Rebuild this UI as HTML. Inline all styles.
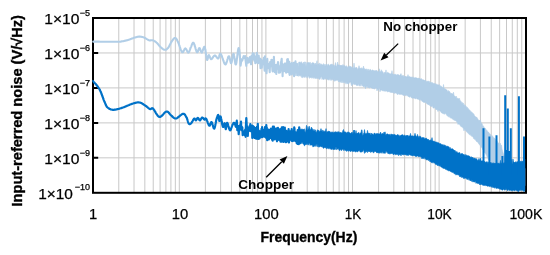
<!DOCTYPE html>
<html><head><meta charset="utf-8"><title>Input-referred noise</title>
<style>html,body{margin:0;padding:0;background:#fff}svg{display:block}</style></head>
<body>
<svg width="550" height="255" viewBox="0 0 550 255">
<rect width="550" height="255" fill="#fff"/>
<path d="M118.77 18.0V192.8M134.02 18.0V192.8M144.84 18.0V192.8M153.23 18.0V192.8M160.09 18.0V192.8M165.89 18.0V192.8M170.91 18.0V192.8M175.34 18.0V192.8M179.30 18.0V192.8M205.37 18.0V192.8M220.62 18.0V192.8M231.44 18.0V192.8M239.83 18.0V192.8M246.69 18.0V192.8M252.49 18.0V192.8M257.51 18.0V192.8M261.94 18.0V192.8M265.90 18.0V192.8M291.97 18.0V192.8M307.22 18.0V192.8M318.04 18.0V192.8M326.43 18.0V192.8M333.29 18.0V192.8M339.09 18.0V192.8M344.11 18.0V192.8M348.54 18.0V192.8M352.50 18.0V192.8M378.57 18.0V192.8M393.82 18.0V192.8M404.64 18.0V192.8M413.03 18.0V192.8M419.89 18.0V192.8M425.69 18.0V192.8M430.71 18.0V192.8M435.14 18.0V192.8M439.10 18.0V192.8M465.17 18.0V192.8M480.42 18.0V192.8M491.24 18.0V192.8M499.63 18.0V192.8M506.49 18.0V192.8M512.29 18.0V192.8M517.31 18.0V192.8M521.74 18.0V192.8M93.0 52.96H526.0M93.0 87.92H526.0M93.0 122.88H526.0M93.0 157.84H526.0" stroke="#c8c8c8" stroke-width="1" fill="none"/>
<rect x="93.0" y="18.0" width="433.0" height="174.8" fill="none" stroke="#000" stroke-width="2"/>
<path d="M93.0 52.96h5.2M93.0 87.92h5.2M93.0 122.88h5.2M93.0 157.84h5.2" stroke="#000" stroke-width="2" fill="none"/>
<clipPath id="c"><rect x="92.3" y="18.0" width="432.9" height="174.8"/></clipPath>
<g clip-path="url(#c)" stroke-linejoin="round" stroke-linecap="round">
<polyline points="93.0,41.6 93.3,41.6 93.7,41.6 94.2,41.6 94.7,41.6 95.2,41.6 95.8,41.6 96.4,41.6 97.0,41.6 97.7,41.6 98.4,41.6 99.1,41.6 99.8,41.7 100.5,41.7 101.2,41.7 101.9,41.7 102.5,41.7 103.2,41.7 103.8,41.7 104.4,41.7 105.0,41.7 105.7,41.7 106.4,41.7 107.1,41.7 107.7,41.7 108.4,41.7 109.1,41.8 109.8,41.8 110.4,41.8 111.0,41.8 111.7,41.8 112.3,41.8 112.9,41.8 113.4,41.8 114.0,41.8 114.5,41.8 115.0,41.8 115.8,41.8 116.5,41.8 117.1,41.8 117.7,41.8 118.2,41.8 118.8,41.8 119.3,41.7 119.9,41.7 120.6,41.6 121.2,41.5 121.7,41.4 122.4,41.3 123.0,41.2 123.6,41.1 124.3,40.9 124.9,40.8 125.6,40.6 126.2,40.5 126.8,40.3 127.4,40.2 128.0,40.0 128.7,39.8 129.3,39.6 129.9,39.4 130.5,39.1 131.1,38.9 131.7,38.6 132.3,38.4 132.9,38.2 133.4,38.0 134.0,37.8 134.6,37.6 135.3,37.4 135.9,37.2 136.5,37.1 137.1,36.9 137.7,36.8 138.3,36.7 138.8,36.6 139.4,36.6 140.1,36.6 140.8,36.7 141.4,36.7 142.0,36.9 142.7,37.1 143.3,37.3 144.0,37.5 144.5,37.7 145.1,38.0 145.7,38.4 146.2,38.7 146.8,39.1 147.4,39.4 147.9,39.7 148.5,40.0 149.0,40.2 149.7,40.4 150.4,40.4 151.1,40.3 151.7,40.2 152.3,40.3 153.0,40.4 153.6,40.6 154.1,40.9 154.7,41.2 155.3,41.6 155.9,42.0 156.4,42.5 157.0,43.0 157.4,43.4 157.8,43.8 158.2,44.3 158.6,44.8 159.0,45.3 159.4,45.8 159.8,46.3 160.2,46.7 160.6,47.1 161.0,47.5 161.6,48.0 162.1,48.4 162.7,48.9 163.2,49.2 163.8,49.5 164.3,49.7 164.8,49.8 165.4,49.8 165.9,49.7 166.4,49.5 166.9,49.1 167.4,48.6 168.0,48.0 168.3,47.6 168.6,47.2 168.9,46.7 169.2,46.1 169.5,45.5 169.8,44.9 170.2,44.3 170.5,43.6 170.8,43.0 171.1,42.4 171.4,41.9 171.7,41.4 172.0,41.0 172.5,40.3 173.0,39.6 173.4,39.1 173.9,38.6 174.3,38.2 174.8,38.0 175.2,38.0 175.6,38.1 175.9,38.4 176.2,38.7 176.5,39.2 176.9,39.7 177.2,40.4 177.6,41.2 178.0,42.0 178.2,42.4 178.4,42.9 178.6,43.5 178.9,44.1 179.1,44.8 179.3,45.5 179.6,46.2 179.8,46.9 180.1,47.6 180.3,48.3 180.6,49.0 180.8,49.6 181.1,50.2 181.3,50.8 181.5,51.2 181.8,51.6 182.0,52.0 182.2,52.2 182.6,52.3 183.1,52.0 183.4,51.4 183.8,50.7 184.2,49.9 184.6,49.1 184.9,48.6 185.3,48.4 185.7,48.6 186.1,49.1 186.5,49.8 186.9,50.6 187.3,51.4 187.7,52.1 188.0,52.5 188.4,52.6 188.7,52.4 189.0,52.1 189.2,51.6 189.5,51.0 189.7,50.3 190.0,49.6 190.2,48.9 190.5,48.2 190.7,47.5 191.0,47.0 191.3,46.3 191.6,45.5 191.9,44.7 192.2,44.0 192.5,43.3 192.8,42.9 193.1,42.7 193.5,42.8 193.7,43.0 193.9,43.4 194.1,43.9 194.3,44.5 194.6,45.2 194.8,45.9 195.0,46.7 195.3,47.5 195.5,48.3 195.7,49.1 196.0,49.8 196.2,50.5 196.4,51.1 196.6,51.6 196.8,52.0 197.0,52.2 197.4,52.3 197.7,51.9 198.0,51.2 198.3,50.4 198.5,49.5 198.8,48.8 199.1,48.2 199.4,48.0 199.7,48.2 200.0,48.8 200.3,49.5 200.6,50.4 200.9,51.2 201.2,52.0 201.5,52.5 201.8,52.6 202.1,52.4 202.3,51.8 202.6,51.0 202.9,50.1 203.2,49.2 203.5,48.3 203.8,47.5 204.1,46.9 204.3,46.7 204.6,46.8 204.7,47.0 204.8,47.4 205.0,47.8 205.1,48.3 205.2,49.0 205.3,49.6 205.5,50.4 205.6,51.1 205.7,51.9 205.8,52.8 205.9,53.6 206.0,54.4 206.1,55.2 206.3,56.0 206.4,56.8 206.5,57.4 206.6,58.1 206.7,58.6 206.8,59.1 206.9,59.4 207.0,59.7 207.2,59.9 207.5,59.6 207.7,58.8 207.9,57.9 208.1,56.9 208.3,56.0 208.6,55.3 208.8,55.0 209.1,55.2 209.3,55.6 209.6,56.3 209.9,57.0 210.2,57.8 210.5,58.5 210.8,59.0 211.2,59.2 211.6,59.1 212.0,58.7 212.4,58.1 212.9,57.4 213.3,56.7 213.8,56.1 214.3,55.7 214.7,55.5 215.2,55.6 215.7,56.1 216.3,56.7 216.8,57.4 217.3,58.0 217.8,58.4 218.2,58.5 218.5,58.2 218.8,57.5 219.1,56.6 219.3,55.7 219.6,54.8 219.9,54.1 220.2,53.7 220.6,53.8 220.8,54.0 221.0,54.4 221.2,54.8 221.5,55.4 221.7,56.0 222.0,56.7 222.2,57.4 222.5,58.1 222.7,58.9 223.0,59.7 223.3,60.5 223.6,61.2 223.8,61.9 224.1,62.6 224.3,63.1 224.6,63.6 224.8,64.0 225.1,64.3 225.3,64.4 225.6,64.4 225.9,64.1 226.1,63.6 226.4,63.0 226.7,62.2 226.9,61.4 227.2,60.5 227.4,59.6 227.7,58.8 227.9,58.0 228.1,57.3 228.4,56.7 228.6,56.4 228.8,56.2 229.0,56.3 229.3,56.7 229.5,57.3 229.7,58.0 229.9,58.9 230.1,59.8 230.3,60.7 230.4,61.5 230.6,62.2 230.8,62.8 231.0,63.1 231.2,63.2 231.3,63.0 231.5,62.7 231.6,62.2 231.8,61.5 231.9,60.8 232.1,60.0 232.2,59.1 232.3,58.3 232.5,57.4 232.6,56.6 232.8,55.8 232.9,55.1 233.1,54.6 233.2,54.1 233.4,53.9 233.5,53.8 233.6,53.9 233.8,54.2 233.9,54.7 234.0,55.3 234.1,56.0 234.3,56.9 234.4,57.7 234.5,58.6 234.7,59.5 234.8,60.4 234.9,61.3 235.1,62.1 235.2,62.9 235.3,63.5 235.5,64.0 235.6,64.3 235.8,64.5 235.9,64.4 236.0,64.2 236.1,64.0 236.2,63.6 236.3,63.1 236.4,62.5 236.5,61.9 236.6,61.2 236.7,60.5 236.8,59.7 236.9,58.8 237.1,58.0 237.2,57.1 237.3,56.2 237.4,55.3 237.5,54.4 237.6,53.6 237.7,52.7 237.8,51.9 237.9,51.2 238.0,50.5 238.1,49.9 238.2,49.3 238.3,48.9 238.4,48.5 238.5,48.2 238.6,48.0 238.7,48.0 238.8,48.1 238.9,48.2 238.9,48.5 239.0,48.8 239.1,49.2 239.2,49.7 239.3,50.3 239.3,50.9 239.4,51.5 239.5,52.2 239.6,53.0 239.6,53.7 239.7,54.5 239.8,55.4 239.9,56.2 239.9,57.0 240.0,57.9 240.1,58.7 240.1,59.5 240.2,60.3 240.2,61.1 240.3,61.8 240.3,62.5 240.4,63.2 240.4,63.8 240.5,64.3 240.5,64.8 240.6,65.3 240.6,65.6 241.5,59.3 242.2,60.6 242.9,58.5 243.6,56.2 244.3,58.0 245.0,56.0 245.6,60.4 246.3,65.8 246.9,58.3 247.5,57.9 248.1,62.7 248.7,62.3 249.3,61.3 249.9,57.0 250.5,61.0 251.1,64.2 251.6,55.5 252.2,59.4 252.7,53.2 253.2,55.9 253.8,53.5 254.3,60.8 254.8,56.3 255.3,63.3 255.8,62.9 256.3,61.4 256.8,52.8 257.3,60.0 257.7,62.3 258.2,63.2 258.7,55.6 259.1,60.6 259.6,58.3 260.0,59.2 260.5,68.1 260.9,59.3 261.3,63.1 261.8,67.6 262.2,60.6 262.6,63.0 263.0,64.1 263.4,64.0 263.8,57.8 264.2,64.2 264.6,70.6 265.0,56.3 265.4,68.3 265.8,64.8 266.1,61.1 266.5,73.3 266.9,68.2 267.3,58.7 267.6,65.0 268.0,67.6 268.3,63.9 268.7,68.2 269.0,64.7 269.4,68.3 269.7,72.1 270.1,62.0 270.4,66.3 270.7,63.2 271.1,66.1 271.4,59.9 271.7,62.9 272.1,64.8 272.4,70.1 272.7,71.4 273.0,59.7 273.3,62.3 273.6,69.2 273.9,56.9 274.2,64.1 274.5,65.9 274.8,72.3 275.1,69.8 275.4,65.1 275.7,65.0 276.0,65.6 276.3,73.9 276.6,64.9 276.9,65.6 277.2,68.7 277.4,66.6 277.7,66.3 278.0,62.1 278.3,67.3 278.5,65.4 278.8,72.8 279.1,70.5 279.3,67.5 279.6,70.7 279.9,66.2 280.1,72.5 280.4,67.8 280.7,70.5 280.9,62.0 281.2,69.4 281.4,60.2 281.7,58.7 281.9,66.5 282.2,63.9 282.4,68.7 282.6,76.2 282.9,64.2 283.1,65.2 283.4,69.0 283.6,70.3 283.8,67.3 284.1,67.2 284.3,71.3 284.5,70.5 284.8,63.5 285.0,67.8 285.2,68.4 285.5,63.5 285.7,69.4 285.9,64.4 286.1,72.7 286.3,69.2 286.6,68.7 286.8,65.7 287.0,67.8 287.2,59.4 287.4,63.3 287.6,70.0 287.9,59.1 288.1,72.3 288.3,60.7 288.5,71.9 288.7,64.7 288.9,72.0 289.1,69.1 289.3,61.7 289.5,74.2 289.7,75.0 289.9,68.3 290.1,67.4 290.3,67.9 290.5,64.3 290.7,73.6 290.9,66.3 291.1,68.5 291.3,65.2 291.5,66.0 291.7,63.1 291.9,74.4 292.1,68.1 292.2,73.1 292.4,68.9 292.6,65.8 292.8,67.4 293.0,66.4 293.2,68.9 293.4,67.3 293.5,67.6 293.7,62.8 293.9,65.4 294.1,76.3 294.3,66.0 294.4,64.3 294.6,70.5 294.8,75.3 295.0,62.6 295.1,68.2 295.3,66.3 295.5,61.3 295.7,72.4 295.8,69.0 296.0,69.5 296.2,65.8 296.3,71.2 296.5,66.8 296.7,68.6 296.8,64.3 297.0,63.9 297.2,75.2 297.3,67.0 297.5,70.6 297.7,69.1 297.8,67.4 298.0,67.1 298.2,72.1 298.3,68.0 298.5,68.7 298.6,69.5 298.8,74.6 298.9,72.4 299.1,71.1 299.3,67.0 299.4,63.4 299.6,73.6 299.7,73.7 299.9,68.9" fill="none" stroke="#B1CEE7" stroke-width="2.1"/>
<polygon points="299.0,62.2 299.5,62.1 300.0,62.2 300.5,63.2 301.0,61.6 301.5,62.0 302.0,62.9 302.5,64.1 303.0,63.2 303.5,62.1 304.0,64.8 304.5,61.9 305.0,62.0 305.5,62.0 306.0,66.7 306.5,63.7 307.0,62.2 307.5,62.9 308.0,63.1 308.5,62.2 309.0,62.9 309.5,62.6 310.0,62.7 310.5,62.4 311.0,65.0 311.5,63.4 312.0,62.8 312.5,62.6 313.0,63.3 313.5,62.7 314.0,63.0 314.5,63.9 315.0,64.6 315.5,63.1 316.0,65.6 316.5,63.3 317.0,60.7 317.5,65.6 318.0,63.9 318.5,64.3 319.0,63.4 319.5,63.2 320.0,65.7 320.5,63.7 321.0,64.2 321.5,64.2 322.0,64.4 322.5,64.9 323.0,64.8 323.5,63.6 324.0,65.4 324.5,64.9 325.0,64.1 325.5,65.2 326.0,66.1 326.5,64.2 327.0,64.0 327.5,66.0 328.0,65.2 328.5,63.9 329.0,65.2 329.5,65.9 330.0,65.1 330.5,64.5 331.0,64.3 331.5,64.3 332.0,64.2 332.5,64.2 333.0,65.6 333.5,65.3 334.0,64.9 334.5,66.7 335.0,64.5 335.5,62.6 336.0,66.2 336.5,66.3 337.0,65.3 337.5,62.1 338.0,65.2 338.5,64.8 339.0,64.9 339.5,65.0 340.0,65.8 340.5,65.1 341.0,66.1 341.5,65.1 342.0,65.8 342.5,65.3 343.0,64.5 343.5,65.5 344.0,65.8 344.5,65.6 345.0,65.7 345.5,67.2 346.0,65.7 346.5,65.9 347.0,67.0 347.5,67.4 348.0,66.4 348.5,66.8 349.0,66.4 349.5,66.2 350.0,65.9 350.5,66.5 351.0,66.9 351.5,66.8 352.0,67.9 352.5,67.0 353.0,68.4 353.5,67.8 354.0,63.1 354.5,67.5 355.0,67.7 355.5,67.8 356.0,67.7 356.5,67.1 357.0,67.9 357.5,69.4 358.0,68.7 358.5,67.7 359.0,65.7 359.5,67.7 360.0,68.5 360.5,67.9 361.0,68.7 361.5,67.8 362.0,68.2 362.5,68.4 363.0,68.7 363.5,66.1 364.0,68.5 364.5,68.6 365.0,69.5 365.5,69.3 366.0,68.9 366.5,68.9 367.0,70.4 367.5,70.1 368.0,68.9 368.5,69.4 369.0,71.3 369.5,69.8 370.0,69.5 370.5,69.4 371.0,70.1 371.5,70.9 372.0,70.2 372.5,70.0 373.0,70.1 373.5,70.6 374.0,70.6 374.5,70.7 375.0,70.7 375.5,70.6 376.0,70.5 376.5,70.5 377.0,70.6 377.5,71.2 378.0,71.6 378.5,71.8 379.0,71.7 379.5,68.8 380.0,71.7 380.5,71.6 381.0,71.4 381.5,69.8 382.0,71.4 382.5,71.7 383.0,71.8 383.5,73.6 384.0,73.4 384.5,72.5 385.0,72.0 385.5,72.8 386.0,69.9 386.5,74.0 387.0,72.4 387.5,72.4 388.0,72.7 388.5,73.0 389.0,72.8 389.5,73.4 390.0,73.9 390.5,73.9 391.0,73.3 391.5,73.5 392.0,70.7 392.5,73.8 393.0,74.2 393.5,74.2 394.0,75.0 394.5,74.3 395.0,74.3 395.5,74.4 396.0,74.7 396.5,75.3 397.0,74.3 397.5,74.7 398.0,74.4 398.5,74.8 399.0,74.9 399.5,75.4 400.0,74.7 400.5,75.0 401.0,73.6 401.5,75.8 402.0,75.9 402.5,75.4 403.0,75.4 403.5,75.5 404.0,77.0 404.5,76.1 405.0,77.5 405.5,76.0 406.0,76.5 406.5,77.1 407.0,76.4 407.5,76.9 408.0,74.6 408.5,77.1 409.0,76.5 409.5,76.4 410.0,77.2 410.5,77.1 411.0,76.9 411.5,76.9 412.0,77.4 412.5,76.9 413.0,77.3 413.5,77.2 414.0,78.2 414.5,77.8 415.0,78.0 415.5,77.4 416.0,78.1 416.5,78.0 417.0,77.8 417.5,78.6 418.0,77.9 418.5,78.1 419.0,78.7 419.5,78.1 420.0,78.6 420.5,79.3 421.0,78.7 421.5,78.7 422.0,79.5 422.5,79.7 423.0,80.1 423.5,80.0 424.0,79.8 424.5,80.4 425.0,79.9 425.5,80.2 426.0,81.4 426.5,81.4 427.0,81.5 427.5,80.9 428.0,81.8 428.5,81.1 429.0,81.5 429.5,81.5 430.0,83.5 430.5,81.8 431.0,83.5 431.5,82.3 432.0,82.9 432.5,82.6 433.0,83.6 433.5,83.4 434.0,83.3 434.5,83.3 435.0,84.3 435.5,84.0 436.0,84.3 436.5,83.8 437.0,85.2 437.5,84.6 438.0,85.0 438.5,84.9 439.0,84.7 439.5,84.7 440.0,87.0 440.5,85.9 441.0,85.7 441.5,86.4 442.0,87.2 442.5,87.6 443.0,88.4 443.5,84.5 444.0,88.6 444.5,88.6 445.0,88.7 445.5,88.9 446.0,89.5 446.5,90.1 447.0,89.7 447.5,91.9 448.0,91.0 448.5,90.6 449.0,92.3 449.5,91.3 450.0,92.6 450.5,92.9 451.0,93.6 451.5,93.5 452.0,93.3 452.5,93.9 453.0,94.1 453.5,92.2 454.0,95.5 454.5,96.0 455.0,96.2 455.5,97.6 456.0,96.1 456.5,96.8 457.0,98.8 457.5,98.4 458.0,98.0 458.5,99.0 459.0,99.1 459.5,98.3 460.0,101.1 460.5,100.7 461.0,101.8 461.5,101.9 462.0,104.0 462.5,102.6 463.0,103.1 463.5,103.4 464.0,105.4 464.5,104.7 465.0,107.1 465.5,105.3 466.0,107.0 466.5,106.7 467.0,107.8 467.5,107.4 468.0,108.8 468.5,108.7 469.0,109.7 469.5,109.9 470.0,110.4 470.5,111.1 471.0,111.7 471.5,112.1 472.0,112.4 472.5,112.7 473.0,113.4 473.5,113.7 474.0,114.4 474.5,115.7 475.0,116.2 475.5,116.8 476.0,117.2 476.5,117.1 477.0,117.6 477.5,118.8 478.0,118.9 478.5,121.0 479.0,120.0 479.5,120.6 480.0,120.1 480.5,120.0 481.0,122.6 481.5,123.1 482.0,123.6 482.5,124.9 483.0,126.3 483.5,126.0 484.0,127.3 484.5,127.9 485.0,128.0 485.5,128.5 486.0,129.5 486.5,130.4 487.0,130.3 487.5,131.6 488.0,131.9 488.5,132.0 489.0,133.0 489.5,133.5 490.0,134.0 490.5,134.2 491.0,135.1 491.5,135.7 492.0,136.6 492.5,135.7 493.0,136.9 493.5,137.4 494.0,138.4 494.5,138.1 495.0,138.8 495.5,139.4 496.0,141.2 496.5,141.1 497.0,140.8 497.5,141.9 498.0,143.0 498.5,143.1 499.0,143.4 499.5,143.8 500.0,145.3 500.5,143.3 501.0,147.6 501.5,145.1 502.0,149.1 502.5,150.6 503.0,152.5 503.5,153.8 504.0,155.3 504.5,156.0 505.0,157.4 505.5,157.8 506.0,159.4 506.5,159.3 507.0,160.3 507.5,160.7 508.0,163.1 508.5,163.0 509.0,163.7 509.5,163.4 510.0,164.1 510.5,164.8 511.0,164.3 511.5,164.7 512.0,164.6 512.5,164.6 513.0,165.6 513.5,165.6 514.0,166.1 514.5,165.7 515.0,166.5 515.5,165.8 516.0,166.1 516.5,166.9 517.0,166.5 517.5,167.1 518.0,166.5 518.5,167.1 519.0,166.3 519.5,166.4 520.0,167.4 520.5,168.1 521.0,167.8 521.5,167.0 522.0,168.0 522.5,167.3 523.0,167.6 523.5,165.6 524.0,168.5 524.5,168.5 525.0,168.7 525.5,168.2 526.0,168.9 526.0,185.7 525.5,185.1 525.0,185.6 524.5,184.3 524.0,185.3 523.5,185.7 523.0,184.6 522.5,184.5 522.0,184.7 521.5,184.3 521.0,184.6 520.5,184.2 520.0,183.9 519.5,183.0 519.0,183.6 518.5,183.4 518.0,182.7 517.5,183.3 517.0,182.9 516.5,183.4 516.0,184.3 515.5,183.3 515.0,183.2 514.5,182.5 514.0,182.9 513.5,182.0 513.0,182.5 512.5,181.9 512.0,182.3 511.5,180.6 511.0,180.6 510.5,182.1 510.0,181.8 509.5,181.6 509.0,180.6 508.5,180.6 508.0,180.0 507.5,180.0 507.0,179.0 506.5,178.4 506.0,178.5 505.5,176.8 505.0,177.9 504.5,177.3 504.0,176.4 503.5,175.6 503.0,175.8 502.5,175.4 502.0,173.9 501.5,173.5 501.0,172.4 500.5,173.4 500.0,172.1 499.5,170.7 499.0,171.7 498.5,170.7 498.0,170.8 497.5,170.4 497.0,169.4 496.5,168.6 496.0,168.4 495.5,167.8 495.0,167.6 494.5,166.8 494.0,166.2 493.5,165.4 493.0,165.3 492.5,164.4 492.0,163.6 491.5,163.1 491.0,162.3 490.5,161.6 490.0,161.3 489.5,160.5 489.0,159.6 488.5,160.1 488.0,158.4 487.5,157.2 487.0,156.8 486.5,155.1 486.0,154.4 485.5,153.4 485.0,152.9 484.5,152.7 484.0,151.6 483.5,149.4 483.0,150.0 482.5,148.9 482.0,147.9 481.5,147.4 481.0,146.4 480.5,146.1 480.0,145.3 479.5,144.7 479.0,144.2 478.5,143.4 478.0,142.6 477.5,141.8 477.0,142.0 476.5,141.4 476.0,140.8 475.5,139.9 475.0,139.3 474.5,139.3 474.0,138.5 473.5,138.4 473.0,136.8 472.5,136.0 472.0,136.8 471.5,135.0 471.0,135.9 470.5,134.4 470.0,134.8 469.5,134.8 469.0,134.3 468.5,133.8 468.0,133.1 467.5,132.6 467.0,132.4 466.5,131.3 466.0,131.2 465.5,130.1 465.0,129.8 464.5,128.7 464.0,130.9 463.5,128.8 463.0,128.1 462.5,127.2 462.0,126.8 461.5,127.0 461.0,126.4 460.5,126.0 460.0,125.0 459.5,124.6 459.0,124.0 458.5,123.9 458.0,124.5 457.5,122.6 457.0,122.7 456.5,121.5 456.0,120.8 455.5,120.7 455.0,120.5 454.5,120.4 454.0,119.6 453.5,120.0 453.0,118.4 452.5,119.3 452.0,118.6 451.5,117.7 451.0,118.4 450.5,117.2 450.0,117.7 449.5,116.7 449.0,116.6 448.5,117.0 448.0,115.5 447.5,115.9 447.0,115.7 446.5,114.9 446.0,113.8 445.5,113.6 445.0,113.6 444.5,114.2 444.0,114.2 443.5,113.8 443.0,113.3 442.5,113.4 442.0,112.8 441.5,112.9 441.0,112.3 440.5,111.3 440.0,111.0 439.5,110.4 439.0,110.3 438.5,109.9 438.0,111.6 437.5,109.9 437.0,109.5 436.5,110.0 436.0,109.5 435.5,108.9 435.0,108.0 434.5,107.6 434.0,108.1 433.5,108.0 433.0,107.9 432.5,105.4 432.0,106.8 431.5,106.5 431.0,105.8 430.5,106.1 430.0,105.9 429.5,105.1 429.0,104.5 428.5,105.1 428.0,104.6 427.5,103.9 427.0,104.0 426.5,103.0 426.0,102.8 425.5,102.3 425.0,102.7 424.5,102.4 424.0,102.3 423.5,102.3 423.0,102.1 422.5,101.2 422.0,101.5 421.5,99.9 421.0,100.4 420.5,99.0 420.0,100.3 419.5,100.1 419.0,99.5 418.5,99.2 418.0,99.2 417.5,99.0 417.0,99.1 416.5,97.5 416.0,99.1 415.5,98.7 415.0,98.5 414.5,98.3 414.0,98.2 413.5,98.0 413.0,98.2 412.5,98.2 412.0,97.8 411.5,97.9 411.0,97.3 410.5,95.9 410.0,97.0 409.5,97.3 409.0,96.4 408.5,97.0 408.0,95.8 407.5,95.9 407.0,95.2 406.5,94.8 406.0,96.1 405.5,95.6 405.0,95.3 404.5,94.9 404.0,95.2 403.5,95.7 403.0,94.8 402.5,95.0 402.0,94.2 401.5,94.4 401.0,93.8 400.5,94.5 400.0,94.5 399.5,94.3 399.0,94.2 398.5,94.1 398.0,93.4 397.5,94.8 397.0,94.1 396.5,93.6 396.0,93.1 395.5,93.0 395.0,92.8 394.5,93.5 394.0,92.6 393.5,93.1 393.0,92.7 392.5,92.2 392.0,93.0 391.5,92.4 391.0,91.8 390.5,92.6 390.0,91.6 389.5,92.2 389.0,91.5 388.5,91.5 388.0,92.1 387.5,91.9 387.0,90.8 386.5,91.2 386.0,90.7 385.5,91.4 385.0,90.5 384.5,91.2 384.0,91.2 383.5,91.0 383.0,90.1 382.5,90.9 382.0,90.6 381.5,90.1 381.0,90.3 380.5,89.9 380.0,91.8 379.5,88.7 379.0,88.3 378.5,90.2 378.0,89.3 377.5,89.0 377.0,90.9 376.5,88.1 376.0,88.4 375.5,88.2 375.0,88.3 374.5,89.0 374.0,89.2 373.5,88.0 373.0,88.9 372.5,88.3 372.0,87.9 371.5,88.0 371.0,88.0 370.5,87.0 370.0,86.9 369.5,88.1 369.0,88.0 368.5,87.0 368.0,87.7 367.5,87.2 367.0,85.9 366.5,87.1 366.0,87.3 365.5,88.8 365.0,87.4 364.5,86.0 364.0,86.8 363.5,86.7 363.0,86.2 362.5,85.1 362.0,86.2 361.5,84.5 361.0,83.9 360.5,85.7 360.0,86.3 359.5,85.3 359.0,85.9 358.5,84.3 358.0,84.9 357.5,85.8 357.0,85.3 356.5,85.6 356.0,84.8 355.5,84.2 355.0,84.8 354.5,84.5 354.0,83.9 353.5,83.4 353.0,84.9 352.5,84.8 352.0,84.3 351.5,85.8 351.0,83.8 350.5,81.8 350.0,82.4 349.5,82.3 349.0,83.7 348.5,84.0 348.0,83.5 347.5,83.6 347.0,83.4 346.5,82.1 346.0,84.2 345.5,82.1 345.0,82.9 344.5,82.8 344.0,81.2 343.5,82.6 343.0,82.9 342.5,82.4 342.0,80.3 341.5,82.6 341.0,81.9 340.5,82.3 340.0,81.1 339.5,82.2 339.0,80.6 338.5,82.0 338.0,79.7 337.5,80.2 337.0,80.6 336.5,80.0 336.0,80.6 335.5,80.0 335.0,81.4 334.5,81.0 334.0,79.2 333.5,80.4 333.0,79.7 332.5,79.6 332.0,80.1 331.5,79.6 331.0,80.6 330.5,79.6 330.0,78.6 329.5,79.6 329.0,80.3 328.5,79.3 328.0,80.1 327.5,79.0 327.0,79.4 326.5,78.7 326.0,79.3 325.5,79.0 325.0,78.6 324.5,78.9 324.0,79.6 323.5,79.4 323.0,79.2 322.5,78.2 322.0,79.6 321.5,76.6 321.0,77.3 320.5,77.7 320.0,79.4 319.5,79.3 319.0,79.0 318.5,78.7 318.0,77.3 317.5,78.4 317.0,78.8 316.5,77.6 316.0,78.8 315.5,77.7 315.0,78.6 314.5,77.9 314.0,76.7 313.5,78.3 313.0,78.3 312.5,77.9 312.0,76.6 311.5,78.3 311.0,77.2 310.5,77.8 310.0,76.8 309.5,78.3 309.0,77.9 308.5,75.9 308.0,76.5 307.5,76.8 307.0,78.1 306.5,76.5 306.0,76.2 305.5,77.0 305.0,77.6 304.5,77.3 304.0,76.6 303.5,77.3 303.0,76.3 302.5,77.7 302.0,77.5 301.5,77.3 301.0,75.2 300.5,76.3 300.0,74.7 299.5,75.6 299.0,76.2" fill="#B1CEE7" stroke="#B1CEE7" stroke-width="0.6"/>
<polyline points="92.8,80.9 93.0,81.2 93.3,81.5 93.6,81.8 93.9,82.2 94.3,82.6 94.7,83.0 95.1,83.5 95.6,83.9 96.0,84.5 96.5,85.0 96.9,85.5 97.4,86.1 97.8,86.7 98.2,87.3 98.6,87.9 99.0,88.5 99.4,89.1 99.7,89.6 99.9,90.1 100.2,90.6 100.4,91.2 100.7,91.7 100.9,92.3 101.2,92.9 101.4,93.5 101.6,94.2 101.9,94.8 102.1,95.4 102.3,96.0 102.6,96.7 102.8,97.3 103.0,97.9 103.2,98.5 103.4,99.0 103.6,99.6 103.8,100.1 104.0,100.6 104.2,101.1 104.4,101.6 104.6,102.0 105.0,102.9 105.3,103.6 105.6,104.3 105.8,104.9 106.1,105.4 106.3,105.9 106.6,106.3 106.8,106.7 107.2,107.1 107.6,107.5 108.1,107.9 108.5,108.2 109.0,108.6 109.6,108.9 110.1,109.1 110.7,109.4 111.4,109.5 112.0,109.7 112.8,109.8 113.5,109.8 114.0,109.8 114.5,109.7 115.1,109.7 115.6,109.6 116.2,109.5 116.8,109.3 117.4,109.2 118.0,109.0 118.7,108.9 119.3,108.7 119.9,108.5 120.5,108.3 121.2,108.1 121.8,107.9 122.4,107.7 123.0,107.5 123.6,107.3 124.2,107.1 124.8,106.8 125.4,106.6 126.0,106.3 126.6,106.1 127.2,105.8 127.9,105.5 128.5,105.3 129.1,105.0 129.6,104.7 130.2,104.5 130.8,104.3 131.3,104.1 131.9,103.9 132.4,103.7 133.1,103.5 133.8,103.3 134.5,103.1 135.2,102.9 135.8,102.7 136.4,102.6 137.0,102.5 137.6,102.4 138.2,102.4 138.8,102.4 139.4,102.5 140.0,102.6 140.6,102.8 141.1,103.0 141.7,103.3 142.2,103.6 142.8,103.9 143.3,104.3 143.8,104.6 144.3,105.0 144.8,105.3 145.3,105.6 145.9,106.0 146.5,106.4 147.0,106.9 147.6,107.3 148.1,107.8 148.6,108.2 149.1,108.6 149.6,108.9 150.0,109.1 150.7,109.1 151.2,108.8 151.6,108.4 152.2,108.2 153.0,108.6 153.3,108.9 153.6,109.3 153.9,109.7 154.3,110.2 154.6,110.8 155.0,111.4 155.4,112.1 155.7,112.7 156.1,113.4 156.5,114.0 157.0,114.6 157.4,115.2 157.8,115.7 158.2,116.1 158.6,116.5 159.0,116.8 159.4,116.9 159.9,116.9 160.4,116.8 160.9,116.5 161.4,116.1 162.0,115.6 162.5,115.1 163.1,114.5 163.6,113.9 164.1,113.3 164.6,112.8 165.1,112.3 165.6,111.9 166.1,111.6 166.5,111.5 167.1,111.5 167.6,111.7 168.1,112.0 168.6,112.5 169.0,113.0 169.4,113.5 169.9,114.1 170.3,114.6 170.7,115.1 171.2,115.5 171.7,115.9 172.2,116.4 172.7,116.9 173.2,117.3 173.6,117.7 174.2,118.1 174.7,118.4 175.3,118.5 175.9,118.5 176.3,118.4 176.8,118.2 177.3,117.9 177.9,117.5 178.4,117.0 179.0,116.6 179.5,116.1 180.1,115.6 180.6,115.2 181.2,114.8 181.7,114.4 182.2,114.1 182.6,113.9 183.0,113.8 183.6,113.8 184.2,114.1 184.6,114.4 185.1,114.9 185.4,115.5 185.8,116.1 186.1,116.8 186.5,117.4 186.8,117.9 187.0,118.5 187.2,119.1 187.4,119.8 187.6,120.5 187.8,121.1 188.0,121.8 188.2,122.4 188.4,122.9 188.6,123.4 188.8,123.7 189.4,124.2 190.0,124.1 190.6,123.8 191.2,123.2 191.5,122.8 191.9,122.3 192.2,121.7 192.6,121.0 192.9,120.4 193.3,119.7 193.6,119.2 193.9,118.8 194.2,118.5 194.7,118.6 195.1,119.3 195.5,120.1 195.9,120.4 196.3,120.1 196.6,119.4 197.0,118.7 197.4,118.1 197.8,117.8 198.2,118.1 198.6,118.7 199.0,119.5 199.5,120.1 199.9,120.4 200.3,120.2 200.6,119.7 201.0,119.0 201.4,118.4 201.8,117.8 202.2,117.6 202.7,117.8 203.2,118.2 203.7,118.9 204.2,119.4 204.6,119.7 205.1,119.2 205.4,118.4 206.0,118.5 206.2,118.8 206.4,119.2 206.7,119.8 206.9,120.4 207.2,121.1 207.5,121.8 207.7,122.6 208.0,123.3 208.3,123.9 208.6,124.5 208.8,125.0 209.1,125.4 209.3,125.6 209.7,125.6 210.0,125.1 210.3,124.3 210.6,123.4 211.0,122.6 211.3,122.1 211.6,122.0 211.8,122.3 212.1,122.8 212.3,123.5 212.5,124.3 212.8,125.2 213.0,126.1 213.3,126.9 213.5,127.6 213.7,128.2 214.0,128.5 214.2,128.6 214.4,128.4 214.5,128.2 214.7,127.7 214.8,127.2 215.0,126.6 215.1,126.0 215.3,125.2 215.4,124.5 215.6,123.7 215.7,122.9 215.9,122.2 216.0,121.5 216.1,120.8 216.3,120.2 216.4,119.7 216.6,118.8 216.9,118.0 217.1,117.2 217.4,116.4 217.6,115.8 217.8,115.3 218.0,115.1 218.2,115.0 218.3,115.2 218.5,115.7 218.6,116.3 218.7,117.1 218.8,117.9 218.9,118.8 219.1,119.5 219.2,120.2 219.3,120.7 219.4,120.9 219.6,120.7 219.7,120.0 219.9,119.0 220.0,118.0 220.2,117.1 220.4,116.5 220.6,116.6 220.7,116.8 220.8,117.2 220.9,117.7 221.1,118.3 221.2,119.0 221.4,119.7 221.5,120.5 221.6,121.3 221.8,122.1 221.9,122.9 222.1,123.6 222.2,124.4 222.4,125.0 222.5,125.6 222.7,126.1 222.8,126.5 222.9,126.8 223.2,126.9 223.5,126.3 223.8,125.3 224.1,124.2 224.4,123.4 224.6,123.2 224.7,123.5 224.9,124.0 225.0,124.7 225.1,125.5 225.2,126.3 225.3,127.2 225.4,127.9 225.6,128.5 225.7,129.0 225.8,129.1 225.9,128.9 226.0,128.4 226.2,127.7 226.3,126.8 226.4,125.8 226.5,124.9 226.7,124.1 226.8,123.4 227.0,122.9 227.2,122.8 227.4,123.0 227.6,123.3 227.8,123.8 228.0,124.5 228.2,125.3 228.4,126.1 228.7,126.9 228.9,127.7 229.1,128.5 229.4,129.2 229.6,129.7 229.8,130.1 230.0,130.3 230.3,130.3 230.6,129.9 230.9,129.4 231.1,128.7 231.4,127.9 231.7,127.1 231.9,126.3 232.2,125.6 232.4,125.1 232.9,124.2 233.3,123.4 233.8,122.9 234.2,122.8 234.5,123.1 234.7,123.6 235.0,124.3 235.3,125.0 235.5,125.8 235.7,126.4 235.9,126.8 236.8,120.7 237.3,130.2 237.8,128.2 238.3,126.3 238.7,134.1 239.2,128.6 239.6,125.7 240.1,128.7 240.6,124.9 241.0,121.5 241.4,130.1 241.9,126.9 242.3,127.4 242.7,135.1 243.1,132.4 243.6,132.3 244.0,131.4 244.4,131.4 244.8,135.1 245.2,129.7 245.6,136.8 245.9,126.3 246.3,118.0 246.7,124.8 247.1,128.8 247.5,132.2 247.8,135.9 248.2,127.8 248.6,130.4 248.9,129.1 249.3,127.7 249.6,126.0 250.0,130.9 250.3,124.0 250.7,131.2 251.0,130.9 251.3,128.3 251.7,127.0 252.0,125.6 252.3,138.0 252.7,125.9 253.0,137.1 253.3,133.5 253.6,129.8 253.9,126.8 254.2,135.3 254.5,138.0 254.9,127.8 255.2,130.3 255.5,135.5 255.8,132.8 256.1,138.6 256.4,129.4 256.6,133.8 256.9,126.9 257.2,138.8 257.5,129.0 257.8,123.8 258.1,131.4 258.4,131.4 258.6,139.0 258.9,130.7 259.2,132.0 259.4,134.4 259.7,138.3 260.0,132.0 260.2,136.3 260.5,134.3 260.8,131.2 261.0,132.7 261.3,132.5 261.5,128.9 261.8,137.2 262.1,127.2 262.3,137.1 262.6,136.3 262.8,132.3 263.0,129.7 263.3,131.9 263.5,134.6 263.8,135.7 264.0,133.9 264.3,136.7 264.5,130.8 264.7,133.9 265.0,127.0 265.2,136.0 265.4,133.6 265.7,131.5 265.9,137.6 266.1,135.8 266.3,125.1 266.6,133.3 266.8,127.6 267.0,137.3 267.2,140.2 267.4,131.3 267.7,133.6 267.9,132.3 268.1,134.7 268.3,135.8 268.5,138.3 268.7,129.6 268.9,139.5 269.2,129.8 269.4,134.5 269.6,137.9 269.8,136.2 270.0,129.9 270.2,130.8 270.4,131.8 270.6,133.4 270.8,138.0 271.0,128.6 271.2,135.4 271.4,136.0 271.6,135.8 271.8,135.5 272.0,139.6 272.2,135.6 272.3,137.1 272.5,135.9 272.7,140.7 272.9,126.5 273.1,138.8 273.3,132.8 273.5,132.8 273.7,130.1 273.9,126.7 274.0,132.4 274.2,131.3 274.4,135.9 274.6,128.3 274.8,139.5 274.9,135.1 275.1,133.1 275.3,131.3 275.5,131.0 275.6,129.7 275.8,132.0 276.0,134.1 276.2,133.5 276.3,128.7 276.5,133.1 276.7,130.7 276.9,134.8 277.0,141.3 277.2,136.7 277.4,133.1 277.5,128.0 277.7,128.8 277.9,127.8 278.0,137.1 278.2,131.4 278.4,134.6 278.5,132.0 278.7,134.7 278.8,139.8 279.0,131.8 279.2,133.1 279.3,131.3 279.5,137.9 279.6,130.5 279.8,130.1 280.0,129.2 280.1,129.1 280.3,136.4 280.4,141.6 280.6,130.7 280.7,138.3 280.9,135.6 281.0,130.4 281.2,133.6 281.3,133.8 281.5,132.0 281.6,141.7 281.8,127.3 281.9,136.2 282.1,136.0 282.2,132.5 282.4,135.4 282.5,138.2 282.7,135.4 282.8,136.4 283.0,137.5 283.1,127.0 283.3,140.6 283.4,141.9 283.5,138.7 283.7,138.8 283.8,129.5 284.0,134.5 284.1,131.8 284.2,132.7 284.4,138.7 284.5,131.9 284.7,134.5 284.8,127.6 284.9,134.4 285.1,135.4 285.2,132.3 285.3,132.3 285.5,142.1 285.6,130.4 285.7,131.0 285.9,132.0 286.0,139.8 286.1,142.2 286.3,136.5 286.4,132.4 286.5,133.5 286.7,139.3 286.8,131.7 286.9,140.9 287.1,140.7 287.2,135.5 287.3,137.8 287.5,138.2 287.6,141.3 287.7,131.2 287.8,139.9 288.0,133.9 288.1,132.4 288.2,135.8 288.3,134.6 288.5,131.6 288.6,129.2 288.7,131.8 288.8,141.1 289.0,142.5 289.1,138.0 289.2,140.1 289.3,133.5 289.5,135.2 289.6,136.6 289.7,131.3 289.8,131.7 289.9,135.9 290.1,134.3 290.2,131.4 290.3,137.1 290.4,134.6 290.5,139.6 290.6,135.6 290.8,134.4 290.9,136.1 291.0,135.0 291.1,133.0 291.2,134.1 291.3,138.6 291.5,138.2 291.6,140.8 291.7,129.0 291.8,134.1 291.9,134.1 292.0,136.4 292.1,133.9 292.3,133.7 292.4,138.9 292.5,136.5 292.6,131.1 292.7,141.1 292.8,139.8 292.9,133.5 293.0,139.2 293.2,132.9 293.3,140.4 293.4,135.0 293.5,132.6 293.6,134.3 293.7,132.8 293.8,136.7 293.9,136.6 294.0,136.0 294.1,133.6 294.2,127.4 294.3,136.3 294.5,128.2 294.6,136.9 294.7,140.6 294.8,137.1 294.9,134.4 295.0,135.2 295.1,135.4 295.2,133.7 295.3,133.6 295.4,132.2 295.5,140.9 295.6,136.0 295.7,140.0 295.8,135.0 295.9,136.4 296.0,135.4 296.1,138.0 296.2,139.5 296.3,137.1 296.4,133.3 296.5,132.8 296.6,143.1 296.7,134.9 296.8,134.9 296.9,142.3 297.0,140.7 297.1,138.4 297.2,134.5 297.3,143.8 297.4,137.8 297.5,138.5 297.6,135.5 297.7,130.2 297.8,130.6 297.9,138.0 298.0,137.9 298.1,135.2 298.2,131.3 298.3,130.1 298.4,134.9 298.5,130.0 298.6,140.1 298.7,141.2 298.8,144.1 298.9,140.1 299.0,133.8 299.1,132.6 299.2,127.3 299.2,133.8 299.3,135.6 299.4,140.5 299.5,139.0 299.6,138.9 299.7,137.3 299.8,139.2 299.9,142.7 300.0,131.8" fill="none" stroke="#0072C8" stroke-width="2.2"/>
<polygon points="299.0,129.2 299.5,129.6 300.0,128.6 300.5,129.8 301.0,129.2 301.5,129.1 302.0,129.5 302.5,129.3 303.0,128.9 303.5,129.6 304.0,129.2 304.5,128.9 305.0,132.1 305.5,132.2 306.0,128.9 306.5,125.3 307.0,129.6 307.5,130.2 308.0,126.4 308.5,129.6 309.0,128.6 309.5,126.3 310.0,130.0 310.5,129.6 311.0,128.8 311.5,127.1 312.0,128.8 312.5,128.8 313.0,130.4 313.5,130.4 314.0,129.2 314.5,130.9 315.0,130.3 315.5,129.9 316.0,132.3 316.5,132.3 317.0,131.0 317.5,129.7 318.0,130.5 318.5,130.0 319.0,131.5 319.5,131.2 320.0,131.2 320.5,130.4 321.0,128.6 321.5,130.9 322.0,130.4 322.5,130.3 323.0,132.3 323.5,130.6 324.0,132.0 324.5,131.6 325.0,130.7 325.5,131.8 326.0,128.6 326.5,132.9 327.0,131.5 327.5,131.7 328.0,132.2 328.5,131.0 329.0,131.1 329.5,131.5 330.0,131.6 330.5,132.9 331.0,131.8 331.5,133.0 332.0,131.8 332.5,132.4 333.0,131.8 333.5,133.1 334.0,132.5 334.5,131.8 335.0,132.3 335.5,131.9 336.0,131.6 336.5,132.2 337.0,132.0 337.5,132.6 338.0,131.4 338.5,132.2 339.0,131.7 339.5,132.4 340.0,132.6 340.5,132.5 341.0,132.2 341.5,133.0 342.0,133.1 342.5,132.0 343.0,130.3 343.5,129.5 344.0,132.0 344.5,131.7 345.0,132.2 345.5,132.0 346.0,132.3 346.5,133.2 347.0,132.5 347.5,131.8 348.0,133.4 348.5,132.0 349.0,131.9 349.5,133.1 350.0,133.1 350.5,133.4 351.0,132.8 351.5,133.0 352.0,132.1 352.5,133.0 353.0,133.7 353.5,130.2 354.0,132.8 354.5,130.0 355.0,133.1 355.5,133.5 356.0,130.5 356.5,133.6 357.0,133.1 357.5,133.3 358.0,132.9 358.5,132.6 359.0,132.4 359.5,134.8 360.0,133.2 360.5,133.0 361.0,133.0 361.5,130.0 362.0,129.8 362.5,135.3 363.0,135.2 363.5,133.5 364.0,132.9 364.5,129.6 365.0,133.8 365.5,133.4 366.0,133.6 366.5,133.5 367.0,133.2 367.5,130.4 368.0,133.7 368.5,133.0 369.0,133.0 369.5,134.0 370.0,132.9 370.5,134.3 371.0,134.9 371.5,133.0 372.0,133.9 372.5,134.1 373.0,134.3 373.5,135.2 374.0,133.2 374.5,133.3 375.0,133.1 375.5,135.0 376.0,133.6 376.5,133.8 377.0,133.8 377.5,133.2 378.0,133.9 378.5,133.7 379.0,134.1 379.5,133.9 380.0,133.5 380.5,132.1 381.0,133.5 381.5,134.6 382.0,133.4 382.5,133.5 383.0,133.8 383.5,133.8 384.0,132.0 384.5,133.7 385.0,131.8 385.5,133.8 386.0,135.5 386.5,134.1 387.0,133.8 387.5,133.9 388.0,134.0 388.5,134.6 389.0,134.7 389.5,135.0 390.0,133.9 390.5,135.7 391.0,134.5 391.5,134.0 392.0,134.3 392.5,134.7 393.0,134.1 393.5,134.9 394.0,134.5 394.5,134.4 395.0,134.5 395.5,135.2 396.0,135.0 396.5,135.8 397.0,134.8 397.5,134.8 398.0,134.4 398.5,135.7 399.0,134.9 399.5,136.5 400.0,135.6 400.5,135.9 401.0,135.0 401.5,135.0 402.0,134.9 402.5,134.7 403.0,134.7 403.5,135.9 404.0,135.7 404.5,134.8 405.0,135.8 405.5,136.3 406.0,135.2 406.5,135.8 407.0,135.2 407.5,135.6 408.0,135.2 408.5,136.2 409.0,136.3 409.5,135.7 410.0,135.7 410.5,133.4 411.0,136.1 411.5,136.1 412.0,135.6 412.5,136.0 413.0,136.1 413.5,136.2 414.0,135.9 414.5,135.6 415.0,133.3 415.5,135.6 416.0,135.7 416.5,136.4 417.0,136.6 417.5,134.4 418.0,136.3 418.5,136.6 419.0,137.8 419.5,136.0 420.0,136.4 420.5,136.4 421.0,136.7 421.5,138.2 422.0,137.7 422.5,137.7 423.0,137.2 423.5,138.0 424.0,137.5 424.5,138.8 425.0,139.1 425.5,138.0 426.0,138.6 426.5,138.3 427.0,138.7 427.5,139.8 428.0,139.1 428.5,139.5 429.0,140.5 429.5,140.5 430.0,139.7 430.5,140.0 431.0,140.6 431.5,140.0 432.0,137.6 432.5,140.5 433.0,141.0 433.5,141.2 434.0,140.9 434.5,141.2 435.0,141.9 435.5,141.9 436.0,142.1 436.5,142.1 437.0,142.5 437.5,142.4 438.0,142.5 438.5,142.8 439.0,143.0 439.5,143.4 440.0,144.2 440.5,143.6 441.0,143.7 441.5,144.5 442.0,144.7 442.5,144.9 443.0,144.3 443.5,146.1 444.0,144.9 444.5,144.9 445.0,145.8 445.5,145.4 446.0,146.5 446.5,146.2 447.0,145.9 447.5,146.1 448.0,147.0 448.5,146.7 449.0,146.7 449.5,149.3 450.0,147.3 450.5,148.4 451.0,148.7 451.5,149.0 452.0,148.6 452.5,148.7 453.0,149.2 453.5,149.7 454.0,150.1 454.5,150.5 455.0,150.3 455.5,151.0 456.0,152.5 456.5,151.8 457.0,151.4 457.5,152.9 458.0,152.8 458.5,152.9 459.0,152.8 459.5,152.5 460.0,152.8 460.5,154.8 461.0,153.9 461.5,153.6 462.0,153.7 462.5,153.5 463.0,154.5 463.5,154.5 464.0,154.5 464.5,156.0 465.0,154.3 465.5,155.3 466.0,155.5 466.5,155.1 467.0,155.4 467.5,156.0 468.0,155.3 468.5,156.1 469.0,156.1 469.5,156.1 470.0,156.7 470.5,157.6 471.0,156.7 471.5,156.9 472.0,157.8 472.5,157.0 473.0,157.7 473.5,158.0 474.0,158.9 474.5,158.1 475.0,158.1 475.5,159.3 476.0,158.5 476.5,159.0 477.0,159.2 477.5,160.5 478.0,160.2 478.5,160.1 479.0,158.5 479.5,160.5 480.0,160.0 480.5,158.3 481.0,160.8 481.5,161.1 482.0,160.6 482.5,160.9 483.0,161.0 483.5,161.2 484.0,161.9 484.5,161.1 485.0,162.3 485.5,162.6 486.0,161.6 486.5,162.0 487.0,162.2 487.5,161.7 488.0,163.7 488.5,162.1 489.0,162.3 489.5,162.7 490.0,162.4 490.5,162.6 491.0,162.3 491.5,163.3 492.0,163.6 492.5,162.8 493.0,164.1 493.5,163.0 494.0,162.7 494.5,163.6 495.0,163.1 495.5,163.5 496.0,162.8 496.5,163.1 497.0,163.6 497.5,163.2 498.0,163.0 498.5,163.1 499.0,163.8 499.5,163.4 500.0,163.8 500.5,160.4 501.0,163.3 501.5,163.3 502.0,163.2 502.5,162.8 503.0,164.0 503.5,162.9 504.0,162.6 504.5,162.8 505.0,163.0 505.5,162.9 506.0,162.6 506.5,162.5 507.0,163.7 507.5,162.3 508.0,162.3 508.5,163.8 509.0,162.4 509.5,162.6 510.0,163.6 510.5,162.4 511.0,162.7 511.5,159.5 512.0,163.9 512.5,162.8 513.0,159.1 513.5,162.0 514.0,161.9 514.5,162.5 515.0,162.0 515.5,162.2 516.0,161.5 516.5,162.8 517.0,162.0 517.5,161.5 518.0,162.1 518.5,161.7 519.0,161.3 519.5,162.7 520.0,161.0 520.5,161.2 521.0,162.5 521.5,161.2 522.0,161.1 522.5,161.3 523.0,161.4 523.5,160.7 524.0,159.7 524.5,159.9 525.0,159.6 525.5,159.6 526.0,159.1 526.0,189.4 525.5,189.8 525.0,190.9 524.5,190.7 524.0,191.8 523.5,190.5 523.0,190.8 522.5,189.8 522.0,190.8 521.5,190.3 521.0,189.8 520.5,190.0 520.0,190.9 519.5,189.9 519.0,190.6 518.5,191.9 518.0,190.6 517.5,191.1 517.0,190.9 516.5,189.9 516.0,190.7 515.5,189.8 515.0,190.3 514.5,190.9 514.0,190.8 513.5,190.4 513.0,189.8 512.5,190.7 512.0,190.7 511.5,190.7 511.0,190.5 510.5,190.2 510.0,190.4 509.5,190.2 509.0,190.6 508.5,188.9 508.0,190.5 507.5,190.5 507.0,190.1 506.5,189.6 506.0,188.6 505.5,190.0 505.0,190.1 504.5,190.2 504.0,189.4 503.5,189.0 503.0,189.8 502.5,190.3 502.0,189.9 501.5,189.6 501.0,189.6 500.5,188.9 500.0,189.5 499.5,188.4 499.0,188.7 498.5,188.2 498.0,188.7 497.5,188.2 497.0,187.7 496.5,188.4 496.0,188.5 495.5,187.6 495.0,187.6 494.5,188.0 494.0,187.8 493.5,187.1 493.0,187.8 492.5,186.0 492.0,187.5 491.5,186.3 491.0,187.1 490.5,186.1 490.0,186.3 489.5,186.6 489.0,186.4 488.5,185.9 488.0,186.4 487.5,186.2 487.0,185.7 486.5,185.4 486.0,186.1 485.5,185.1 485.0,185.2 484.5,185.7 484.0,184.8 483.5,185.6 483.0,185.0 482.5,185.2 482.0,184.5 481.5,184.2 481.0,184.4 480.5,185.0 480.0,183.3 479.5,184.8 479.0,182.9 478.5,183.8 478.0,183.2 477.5,183.6 477.0,183.1 476.5,182.7 476.0,183.4 475.5,181.6 475.0,181.7 474.5,182.0 474.0,182.0 473.5,181.7 473.0,181.8 472.5,181.8 472.0,179.6 471.5,181.3 471.0,181.1 470.5,180.5 470.0,180.8 469.5,178.6 469.0,180.3 468.5,178.8 468.0,178.4 467.5,179.4 467.0,179.6 466.5,179.0 466.0,178.1 465.5,178.1 465.0,178.2 464.5,178.6 464.0,177.4 463.5,178.6 463.0,177.3 462.5,177.3 462.0,177.1 461.5,177.6 461.0,175.9 460.5,176.8 460.0,176.9 459.5,176.5 459.0,175.1 458.5,174.9 458.0,174.7 457.5,174.9 457.0,174.2 456.5,174.5 456.0,175.2 455.5,174.1 455.0,173.7 454.5,174.0 454.0,173.5 453.5,172.4 453.0,172.5 452.5,172.5 452.0,171.9 451.5,172.2 451.0,171.5 450.5,171.5 450.0,170.9 449.5,170.8 449.0,171.0 448.5,170.8 448.0,170.4 447.5,170.2 447.0,169.8 446.5,169.9 446.0,168.6 445.5,169.4 445.0,169.0 444.5,168.5 444.0,168.2 443.5,168.4 443.0,168.2 442.5,168.0 442.0,167.3 441.5,166.9 441.0,167.2 440.5,166.3 440.0,165.4 439.5,166.0 439.0,166.3 438.5,165.5 438.0,164.6 437.5,165.7 437.0,165.2 436.5,164.5 436.0,164.3 435.5,164.4 435.0,163.5 434.5,162.8 434.0,163.3 433.5,162.3 433.0,162.6 432.5,163.0 432.0,162.3 431.5,162.7 431.0,162.2 430.5,161.1 430.0,162.0 429.5,160.0 429.0,160.2 428.5,160.7 428.0,159.1 427.5,160.0 427.0,160.0 426.5,160.0 426.0,159.2 425.5,158.3 425.0,159.3 424.5,157.7 424.0,157.4 423.5,158.6 423.0,158.5 422.5,157.7 422.0,159.0 421.5,157.4 421.0,156.8 420.5,157.1 420.0,156.2 419.5,156.6 419.0,156.9 418.5,156.8 418.0,155.9 417.5,155.9 417.0,156.3 416.5,156.5 416.0,156.6 415.5,156.4 415.0,156.1 414.5,155.9 414.0,155.0 413.5,155.8 413.0,155.0 412.5,156.0 412.0,155.9 411.5,155.6 411.0,155.0 410.5,155.2 410.0,154.9 409.5,154.7 409.0,154.5 408.5,155.3 408.0,155.7 407.5,155.0 407.0,155.3 406.5,155.3 406.0,154.4 405.5,155.0 405.0,154.8 404.5,154.5 404.0,154.4 403.5,155.2 403.0,153.7 402.5,155.0 402.0,153.8 401.5,154.2 401.0,155.9 400.5,154.3 400.0,155.0 399.5,154.8 399.0,154.3 398.5,155.7 398.0,154.1 397.5,154.6 397.0,154.7 396.5,154.6 396.0,153.8 395.5,154.8 395.0,154.6 394.5,153.7 394.0,154.5 393.5,154.5 393.0,154.4 392.5,153.2 392.0,153.7 391.5,153.4 391.0,153.6 390.5,153.7 390.0,153.9 389.5,154.1 389.0,152.9 388.5,153.6 388.0,154.0 387.5,151.8 387.0,152.7 386.5,151.4 386.0,151.0 385.5,152.9 385.0,153.5 384.5,153.0 384.0,153.3 383.5,153.2 383.0,152.4 382.5,151.5 382.0,153.4 381.5,152.8 381.0,152.0 380.5,152.8 380.0,153.3 379.5,152.2 379.0,153.3 378.5,152.0 378.0,153.0 377.5,151.9 377.0,153.1 376.5,152.5 376.0,152.0 375.5,151.4 375.0,151.6 374.5,151.8 374.0,152.4 373.5,152.7 373.0,152.6 372.5,151.1 372.0,151.9 371.5,151.8 371.0,152.2 370.5,152.4 370.0,151.1 369.5,152.0 369.0,150.8 368.5,151.5 368.0,152.0 367.5,152.6 367.0,150.5 366.5,152.1 366.0,151.6 365.5,152.5 365.0,151.0 364.5,153.4 364.0,151.7 363.5,149.4 363.0,151.0 362.5,151.7 362.0,151.8 361.5,152.0 361.0,152.2 360.5,152.0 360.0,152.1 359.5,150.3 359.0,151.1 358.5,150.7 358.0,151.4 357.5,152.0 357.0,151.8 356.5,150.7 356.0,152.2 355.5,151.9 355.0,151.3 354.5,151.3 354.0,151.2 353.5,151.0 353.0,151.9 352.5,150.7 352.0,151.3 351.5,150.8 351.0,151.4 350.5,151.5 350.0,151.2 349.5,150.9 349.0,150.2 348.5,151.4 348.0,150.6 347.5,150.7 347.0,151.2 346.5,151.3 346.0,150.6 345.5,150.1 345.0,150.8 344.5,149.4 344.0,149.6 343.5,150.5 343.0,149.0 342.5,148.9 342.0,150.0 341.5,150.7 341.0,149.5 340.5,149.6 340.0,150.4 339.5,150.6 339.0,150.2 338.5,147.8 338.0,149.3 337.5,148.8 337.0,149.6 336.5,149.6 336.0,146.4 335.5,149.3 335.0,149.4 334.5,149.5 334.0,149.2 333.5,149.4 333.0,149.8 332.5,148.2 332.0,149.5 331.5,149.4 331.0,148.8 330.5,149.2 330.0,148.3 329.5,147.8 329.0,149.2 328.5,147.8 328.0,148.5 327.5,147.7 327.0,148.7 326.5,148.8 326.0,146.9 325.5,148.0 325.0,147.8 324.5,147.6 324.0,148.2 323.5,148.2 323.0,147.9 322.5,146.3 322.0,147.2 321.5,146.6 321.0,146.9 320.5,146.1 320.0,146.6 319.5,147.1 319.0,147.0 318.5,147.1 318.0,145.0 317.5,146.7 317.0,144.1 316.5,144.9 316.0,146.6 315.5,144.4 315.0,146.2 314.5,145.2 314.0,146.7 313.5,146.1 313.0,147.1 312.5,145.5 312.0,145.1 311.5,145.2 311.0,144.7 310.5,144.9 310.0,145.4 309.5,143.3 309.0,143.4 308.5,144.8 308.0,145.2 307.5,143.2 307.0,144.5 306.5,143.5 306.0,145.0 305.5,144.2 305.0,144.7 304.5,146.1 304.0,144.7 303.5,144.0 303.0,144.2 302.5,143.0 302.0,142.2 301.5,143.2 301.0,144.1 300.5,144.0 300.0,143.5 299.5,144.0 299.0,141.7" fill="#0072C8" stroke="#0072C8" stroke-width="0.6"/>
<path d="M483.5 128.2V175M489.4 136.5V175M496.5 135.3V175M505.2 95.2V175M507.8 108.5V175M510.8 128.2V175M518.9 96.2V175M524.0 136.5V175M502.4 156.0V175M506.5 150.0V175M509.3 151.0V175" stroke="#0072C8" stroke-width="2.0" fill="none" stroke-linecap="butt"/>
</g>
<text text-anchor="end" font-family="Liberation Sans, Arial, sans-serif" font-size="14.9" fill="#000" stroke="#000" stroke-width="0.25"><tspan x="79.5" y="24.3" textLength="35.2" lengthAdjust="spacingAndGlyphs">1×10</tspan><tspan x="90" y="16.3" font-size="9">−5</tspan></text>
<text text-anchor="end" font-family="Liberation Sans, Arial, sans-serif" font-size="14.9" fill="#000" stroke="#000" stroke-width="0.25"><tspan x="79.5" y="59.3" textLength="35.2" lengthAdjust="spacingAndGlyphs">1×10</tspan><tspan x="90" y="51.3" font-size="9">−6</tspan></text>
<text text-anchor="end" font-family="Liberation Sans, Arial, sans-serif" font-size="14.9" fill="#000" stroke="#000" stroke-width="0.25"><tspan x="79.5" y="94.2" textLength="35.2" lengthAdjust="spacingAndGlyphs">1×10</tspan><tspan x="90" y="86.2" font-size="9">−7</tspan></text>
<text text-anchor="end" font-family="Liberation Sans, Arial, sans-serif" font-size="14.9" fill="#000" stroke="#000" stroke-width="0.25"><tspan x="79.5" y="129.2" textLength="35.2" lengthAdjust="spacingAndGlyphs">1×10</tspan><tspan x="90" y="121.2" font-size="9">−8</tspan></text>
<text text-anchor="end" font-family="Liberation Sans, Arial, sans-serif" font-size="14.9" fill="#000" stroke="#000" stroke-width="0.25"><tspan x="79.5" y="164.1" textLength="35.2" lengthAdjust="spacingAndGlyphs">1×10</tspan><tspan x="90" y="156.1" font-size="9">−9</tspan></text>
<text text-anchor="end" font-family="Liberation Sans, Arial, sans-serif" font-size="14.9" fill="#000" stroke="#000" stroke-width="0.25"><tspan x="72.9" y="198.5" textLength="34.7" lengthAdjust="spacingAndGlyphs">1×10</tspan><tspan x="90" y="189.5" font-size="9">−10</tspan></text>
<text x="93.2" y="219" text-anchor="middle" font-family="Liberation Sans, Arial, sans-serif" font-size="14.8" fill="#000" stroke="#000" stroke-width="0.25">1</text>
<text x="179.9" y="219" text-anchor="middle" font-family="Liberation Sans, Arial, sans-serif" font-size="14.8" fill="#000" stroke="#000" stroke-width="0.25">10</text>
<text x="266.3" y="219" text-anchor="middle" font-family="Liberation Sans, Arial, sans-serif" font-size="14.8" fill="#000" stroke="#000" stroke-width="0.25">100</text>
<text x="353.0" y="219" text-anchor="middle" font-family="Liberation Sans, Arial, sans-serif" font-size="14.8" textLength="16.5" lengthAdjust="spacingAndGlyphs" fill="#000" stroke="#000" stroke-width="0.25">1K</text>
<text x="439.5" y="219" text-anchor="middle" font-family="Liberation Sans, Arial, sans-serif" font-size="14.8" textLength="24.5" lengthAdjust="spacingAndGlyphs" fill="#000" stroke="#000" stroke-width="0.25">10K</text>
<text x="525.9" y="219" text-anchor="middle" font-family="Liberation Sans, Arial, sans-serif" font-size="14.8" textLength="33.0" lengthAdjust="spacingAndGlyphs" fill="#000" stroke="#000" stroke-width="0.25">100K</text>
<text x="260.5" y="242" font-family="Liberation Sans, Arial, sans-serif" font-size="14.4" font-weight="bold" textLength="96.8" lengthAdjust="spacingAndGlyphs" fill="#000" stroke="#000" stroke-width="0.35">Frequency(Hz)</text>
<text transform="translate(21.8,206.5) rotate(-90)" font-family="Liberation Sans, Arial, sans-serif" font-size="14.4" font-weight="bold" textLength="191.5" lengthAdjust="spacingAndGlyphs" fill="#000" stroke="#000" stroke-width="0.35">Input-referred noise (V/√Hz)</text>
<text x="383.3" y="31.2" font-family="Liberation Sans, Arial, sans-serif" font-size="13.33" font-weight="bold" fill="#000">No chopper</text>
<text x="238.3" y="188.7" font-family="Liberation Sans, Arial, sans-serif" font-size="13.55" font-weight="bold" fill="#000">Chopper</text>
<path d="M398.2 43.6L386.4 55.0" stroke="#000" stroke-width="1.3" fill="none"/><path d="M380.6 60.6L384.2 52.8L388.5 57.3Z" fill="#000"/>
<path d="M266.2 177.2L281.7 161.7" stroke="#000" stroke-width="1.3" fill="none"/><path d="M287.4 156.0L283.9 163.8L279.6 159.5Z" fill="#000"/>
</svg>
</body></html>
